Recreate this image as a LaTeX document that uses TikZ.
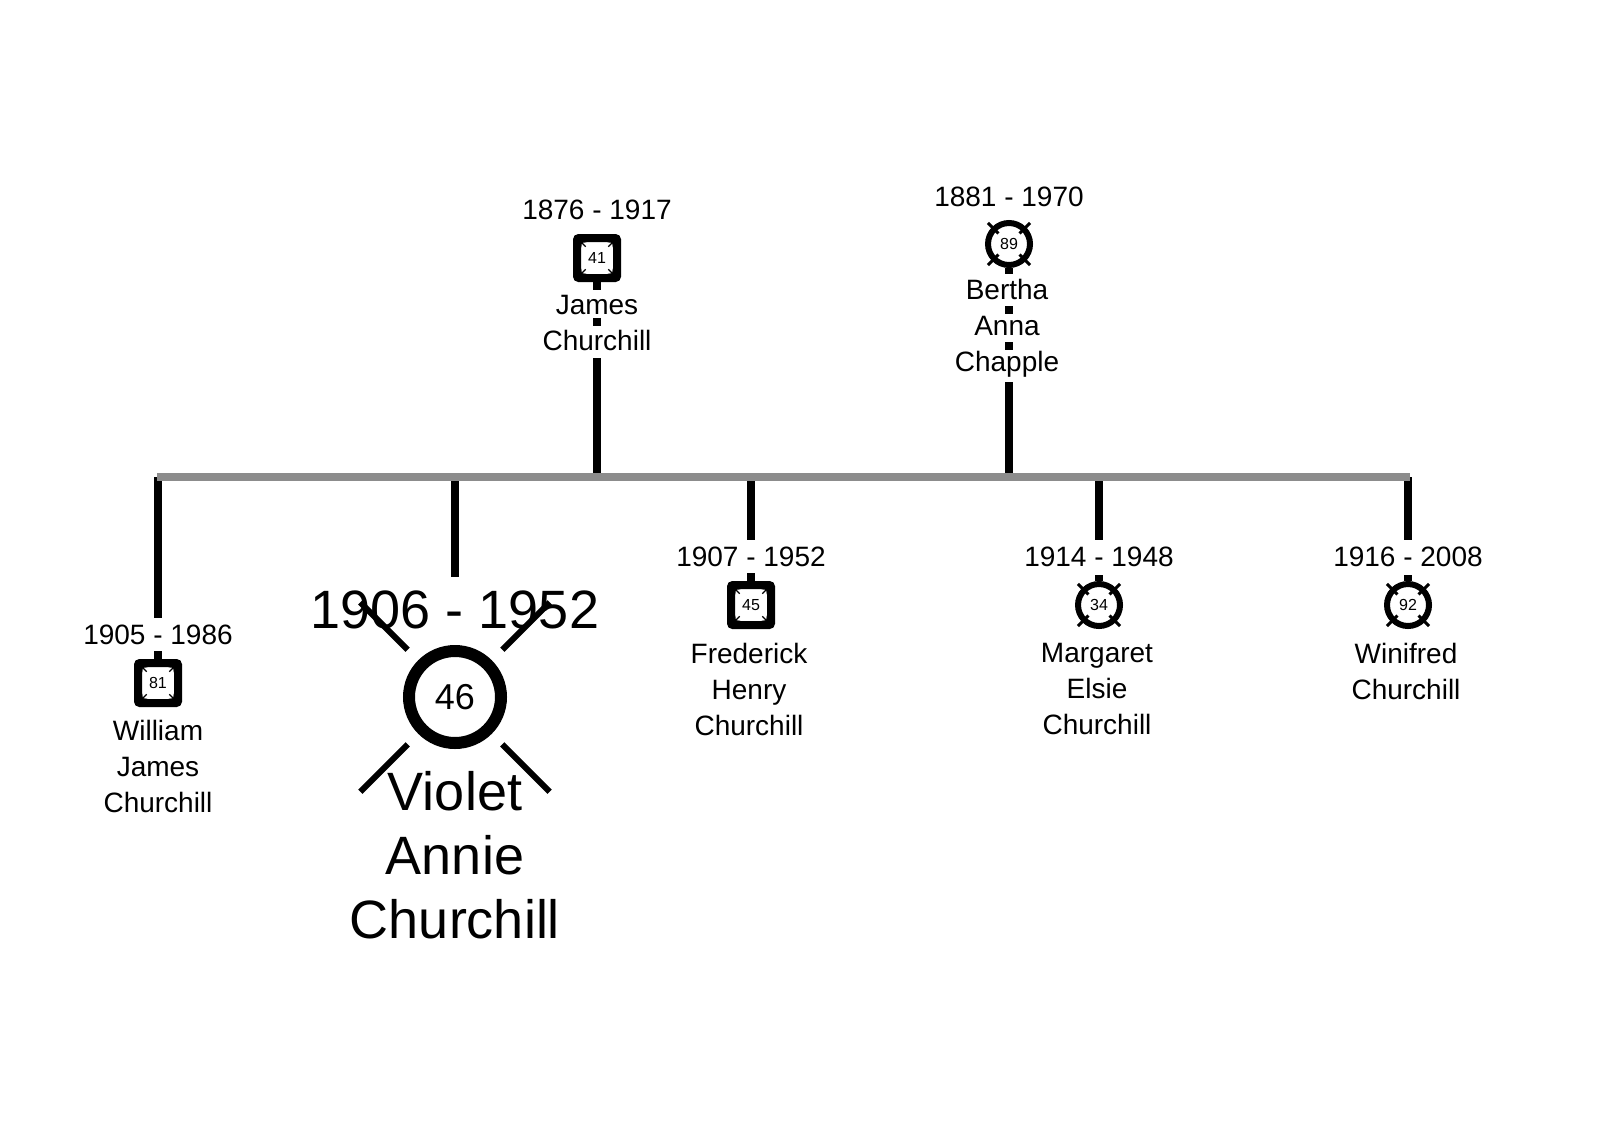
\documentclass[tikz,border=0pt]{standalone}
\usepackage{fontspec}
\setmainfont{Liberation Sans}
\begin{document}
\begin{tikzpicture}[x=0.5pt,y=-0.5pt,
  yr/.style={font=\fontsize{14}{16}\selectfont,inner sep=0pt},
  nm/.style={font=\fontsize{14}{18}\selectfont,align=center,inner sep=0pt},
  bigyr/.style={font=\fontsize{27}{30}\selectfont,inner sep=0pt},
  bignm/.style={font=\fontsize{27}{32}\selectfont,align=center,inner sep=0pt},
  sq/.style={draw,line width=4pt,rounded corners=1pt,minimum size=20pt,inner sep=0pt,font=\fontsize{8}{8}\selectfont},
  ci/.style={draw,circle,line width=3pt,minimum size=21pt,inner sep=0pt,font=\fontsize{8}{8}\selectfont},
  bigci/.style={draw,circle,line width=6pt,minimum size=46pt,inner sep=0pt,font=\fontsize{18}{18}\selectfont},
  conn/.style={line width=4pt},
  stub/.style={line width=4pt}]
\useasboundingbox (0,0) rectangle (1600,1131);
\newcommand\sqarrows[1]{%
  \foreach \a in {45,135,225,315}{\draw[line width=0.6pt,-stealth] (#1) ++(\a:8pt) -- ++(\a:5pt);}}
\newcommand\cix[3]{%
  \foreach \a in {45,135,225,315}{\draw[line width=#3] (#1) ++(\a:#2*0.62) -- ++(\a:#2*0.62);}}
% bar
\coordinate (bl) at (157,477); \coordinate (br) at (1410,477);
% parents
\node[yr] (jy) at (597,210) {1876 - 1917};
\node[sq] (js) at (597,258) {41}; \sqarrows{js}
\node[nm] (jn) at (597,323) {James\\Churchill};
\draw[stub] (js.south) -- ++(0,8);
\draw[stub] (597,318) -- (597,326);
\coordinate (jb) at (597,358);
\node[yr] (by) at (1009,197) {1881 - 1970};
\node[ci] (bc) at (1009,244) {89}; \cix{bc}{12pt}{1.5pt}
\node[nm] (bn) at (1007,328) {Bertha\\Anna\\Chapple};
\draw[stub] (bc.south) -- ++(0,6);
\draw[stub] (1009,306) -- (1009,314); \draw[stub] (1009,342) -- (1009,350);
\coordinate (bb) at (1009,382);
\coordinate (jbar) at (597,477); \coordinate (bbar) at (1009,477);
\draw[conn] (jb) -- (jbar); \draw[conn] (bb) -- (bbar);
% children
\coordinate (w0) at (158,477); \coordinate (w1) at (158,618);
\node[yr] (wy) at (158,635) {1905 - 1986};
\node[sq] (ws) at (158,683) {81}; \sqarrows{ws}
\draw[stub] (ws.north) -- ++(0,-8);
\node[nm] (wn) at (158,766) {William\\James\\Churchill};
\draw[conn] (w0) -- (w1);
\coordinate (v0) at (455,477); \coordinate (v1) at (455,577);
\node[bigyr] (vy) at (455,610) {1906 - 1952};
\node[bigci] (vc) at (455,697) {46}; \cix{vc}{54pt}{3pt}
\node[bignm] (vn) at (455,855) {Violet\\Annie\\Churchill};
\draw[conn] (v0) -- (v1);
\coordinate (f0) at (751,477); \coordinate (f1) at (751,540);
\node[yr] (fy) at (751,557) {1907 - 1952};
\node[sq] (fs) at (751,605) {45}; \sqarrows{fs}
\draw[stub] (fs.north) -- ++(0,-8);
\node[nm] (fn) at (749,689) {Frederick\\Henry\\Churchill};
\draw[conn] (f0) -- (f1);
\coordinate (m0) at (1099,477); \coordinate (m1) at (1099,540);
\node[yr] (my) at (1099,557) {1914 - 1948};
\node[ci] (mc) at (1099,605) {34}; \cix{mc}{12pt}{1.5pt}
\draw[stub] (mc.north) -- ++(0,-6);
\node[nm] (mn) at (1097,689) {Margaret\\Elsie\\Churchill};
\draw[conn] (m0) -- (m1);
\coordinate (n0) at (1408,477); \coordinate (n1) at (1408,540);
\node[yr] (ny) at (1408,557) {1916 - 2008};
\node[ci] (nc) at (1408,605) {92}; \cix{nc}{12pt}{1.5pt}
\draw[stub] (nc.north) -- ++(0,-6);
\node[nm] (nn) at (1406,671) {Winifred\\Churchill};
\draw[conn] (n0) -- (n1);
\draw[line width=4pt,gray!90] (bl) -- (br);
\end{tikzpicture}
\end{document}
